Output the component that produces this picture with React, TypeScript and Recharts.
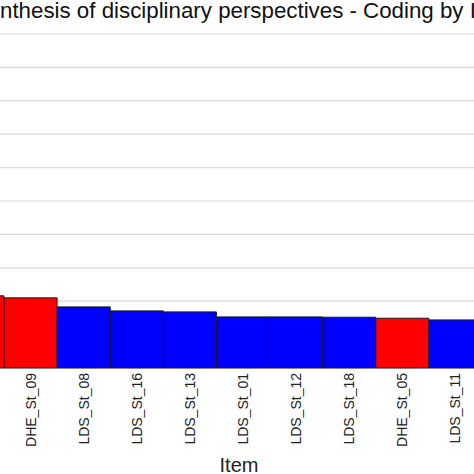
import { BarChart, Bar, XAxis, YAxis, CartesianGrid, Cell } from 'recharts';

// Items sorted by coding share, continuing from the left side of the ranking
const items = [
  'DHE_St_03',
  'DHE_St_09',
  'LDS_St_08',
  'LDS_St_16',
  'LDS_St_13',
  'LDS_St_01',
  'LDS_St_12',
  'LDS_St_18',
  'DHE_St_05',
  'LDS_St_11',
];
const values = [2.16, 2.1, 1.83, 1.71, 1.68, 1.53, 1.53, 1.52, 1.49, 1.44];
const yTicks = [0, 1, 2, 3, 4, 5, 6, 7, 8, 9, 10];

const groupColors: Record<string, string> = {
  DHE: '#ff0000',
  LDS: '#0000ff',
};

const data = items.map((item, i) => ({ item, value: values[i] }));

const font = '"Liberation Sans", Arial, sans-serif';

const ItemTick = (props: any) => {
  const { x, y, payload } = props;
  return (
    <text
      transform={`translate(${x},${y - 3}) rotate(-90)`}
      textAnchor="end"
      dominantBaseline="central"
      fontSize={14}
      fontFamily={font}
      fill="#222"
    >
      {payload.value}
    </text>
  );
};

const App = () => {
  const barStep = 53.1;
  const plotWidth = barStep * items.length;

  return (
    <div
      style={{
        position: 'absolute',
        left: 0,
        top: 0,
        width: 474,
        height: 474,
        overflow: 'hidden',
        background: '#fff',
      }}
    >
      <div style={{ position: 'absolute', left: 4 - barStep, top: 0 }}>
        <BarChart
          width={plotWidth}
          height={474}
          data={data}
          margin={{ top: 34, right: 0, left: 0, bottom: 0 }}
          barCategoryGap={0}
        >
          <CartesianGrid vertical={false} stroke="#d9d9d9" strokeWidth={1.2} />
          <XAxis
            dataKey="item"
            height={106}
            axisLine={false}
            tickLine={false}
            interval={0}
            tick={<ItemTick />}
          />
          <YAxis hide domain={[0, 10]} ticks={yTicks} />
          <Bar dataKey="value" stroke="#1a1a1a" strokeWidth={1} isAnimationActive={false}>
            {data.map((d) => (
              <Cell key={d.item} fill={groupColors[d.item.slice(0, 3)]} />
            ))}
          </Bar>
        </BarChart>
      </div>
      <svg
        width={474}
        height={474}
        style={{ position: 'absolute', left: 0, top: 0, pointerEvents: 'none' }}
      >
        <text x={-26} y={17.5} fontSize={22.3} fontFamily={font} fill="#111">
          Synthesis of disciplinary perspectives - Coding by Item
        </text>
        <text x={239} y={472} fontSize={20} fontFamily={font} fill="#222" textAnchor="middle">
          Item
        </text>
      </svg>
    </div>
  );
};

export default App;
